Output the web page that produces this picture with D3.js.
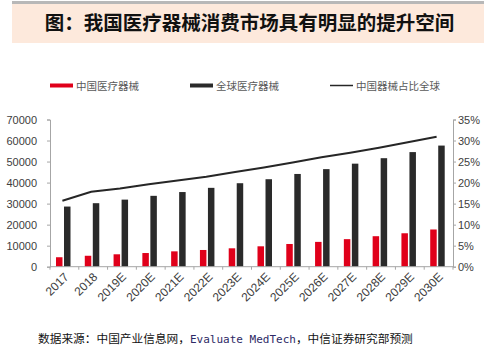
<!DOCTYPE html>
<html>
<head>
<meta charset="utf-8">
<script src="https://cdn.jsdelivr.net/npm/d3@7"></script>
<style>
body { margin: 0; background: #fff; }
</style>
</head>
<body>
<script>
// data
var years = ["2017", "2018", "2019E", "2020E", "2021E", "2022E", "2023E",
    "2024E", "2025E", "2026E", "2027E", "2028E", "2029E", "2030E"];
var chinaVals = [4500, 5200, 5900, 6500, 7300, 7950, 8750, 9700, 10800, 11800, 13100, 14500, 15900, 17700];
var globalVals = [28600, 30200, 31900, 33700, 35500, 37500, 39700, 41600, 44100, 46400, 49000, 51600, 54500, 57600];
var shareVals = [15.7, 17.8, 18.6, 19.6, 20.5, 21.4, 22.5, 23.6, 24.8, 26.0, 27.1, 28.3, 29.6, 30.9];
var leftTicks = [0, 10000, 20000, 30000, 40000, 50000, 60000, 70000];
var rightTicks = [0, 5, 10, 15, 20, 25, 30, 35];
var seriesNames = ["中国医疗器械", "全球医疗器械", "中国器械占比全球"];

var W = 488, H = 353;
var plotL = 50, plotR = 453, plotT = 119.5, plotB = 266.7;

var svg = d3.select("body").append("svg")
    .attr("width", W)
    .attr("height", H);

// title banner
svg.append("rect")
    .attr("x", 12).attr("y", 1)
    .attr("width", 472).attr("height", 4)
    .attr("fill", "#b8b8b8");
svg.append("rect")
    .attr("x", 12).attr("y", 4)
    .attr("width", 472).attr("height", 39)
    .attr("fill", "#fde9dc");
svg.append("text")
    .attr("x", 249.5)
    .attr("y", 30)
    .attr("text-anchor", "middle")
    .attr("font-family", "'Noto Sans CJK SC', sans-serif")
    .attr("font-weight", "bold")
    .attr("font-size", 19.5)
    .attr("fill", "#111")
    .text("图：我国医疗器械消费市场具有明显的提升空间");

var x = d3.scaleBand().domain(years).range([plotL, plotR]).padding(0);
var x1 = d3.scaleBand().domain(["cn", "gl"]).range([6, 20.5]).paddingInner(0.19);
var y = d3.scaleLinear().domain([0, 70000]).range([plotB, plotT]);
var y2 = d3.scaleLinear().domain([0, 35]).range([plotB, plotT]);

var axisColor = "#a6a6a6";
var labelColor = "#404040";
var font = "Arial, 'Liberation Sans', sans-serif";

// bars
var g = svg.append("g");
g.selectAll(".cn").data(years).enter().append("rect")
    .attr("x", function(d) { return x(d) + x1("cn"); })
    .attr("y", function(d, i) { return y(chinaVals[i]); })
    .attr("width", x1.bandwidth())
    .attr("height", function(d, i) { return plotB - y(chinaVals[i]); })
    .attr("fill", "#e0001a");
g.selectAll(".gl").data(years).enter().append("rect")
    .attr("x", function(d) { return x(d) + x1("gl"); })
    .attr("y", function(d, i) { return y(globalVals[i]); })
    .attr("width", x1.bandwidth())
    .attr("height", function(d, i) { return plotB - y(globalVals[i]); })
    .attr("fill", "#2a2a2a");

// share line
var line = d3.line()
    .x(function(d, i) { return x(years[i]) + x.bandwidth() / 2 - 2; })
    .y(function(d) { return y2(d); });
svg.append("path")
    .datum(shareVals)
    .attr("d", line)
    .attr("fill", "none")
    .attr("stroke", "#262626")
    .attr("stroke-width", 2);

// left axis
var yAxis = svg.append("g")
    .attr("transform", "translate(" + plotL + ",0)")
    .call(d3.axisLeft(y).tickValues(leftTicks).tickSize(3).tickPadding(10).tickFormat(d3.format("d")));
// right axis
var y2Axis = svg.append("g")
    .attr("transform", "translate(" + plotR + ",0)")
    .call(d3.axisRight(y2).tickValues(rightTicks).tickSize(3).tickPadding(2).tickFormat(function(d) { return d + "%"; }));

[yAxis, y2Axis].forEach(function(a) {
    a.select(".domain").attr("stroke", axisColor);
    a.selectAll(".tick line").attr("stroke", axisColor);
    a.selectAll("text")
        .attr("font-family", font)
        .attr("font-size", 11)
        .attr("fill", labelColor);
});

// x axis: ticks sit between the categories
var xAxis = svg.append("g").attr("transform", "translate(0," + plotB + ")");
xAxis.append("line")
    .attr("x1", plotL).attr("x2", plotR)
    .attr("stroke", axisColor);
xAxis.selectAll(".xt").data(years.concat(["end"])).enter().append("line")
    .attr("x1", function(d, i) { return plotL + i * x.step(); })
    .attr("x2", function(d, i) { return plotL + i * x.step(); })
    .attr("y1", 0).attr("y2", 3)
    .attr("stroke", axisColor);
xAxis.selectAll(".xl").data(years).enter().append("text")
    .attr("transform", function(d) {
        return "translate(" + (x(d) + x.bandwidth() / 2 + 2) + ",8) rotate(-45)";
    })
    .attr("text-anchor", "end")
    .attr("dy", "0.35em")
    .attr("font-family", font)
    .attr("font-size", 12)
    .attr("fill", labelColor)
    .text(function(d) { return d; });

// legend
var legendX = [50, 190, 330];
var leg = svg.append("g").attr("font-family", "'Noto Sans CJK SC', sans-serif");
leg.selectAll("rect").data([0, 1]).enter().append("rect")
    .attr("x", function(d) { return legendX[d]; })
    .attr("y", 83.5)
    .attr("width", 23)
    .attr("height", 4)
    .attr("fill", function(d) { return d == 0 ? "#e0001a" : "#2a2a2a"; });
leg.append("line")
    .attr("x1", legendX[2]).attr("x2", legendX[2] + 23)
    .attr("y1", 85.5).attr("y2", 85.5)
    .attr("stroke", "#262626")
    .attr("stroke-width", 1.5);
leg.selectAll("text").data(seriesNames).enter().append("text")
    .attr("x", function(d, i) { return legendX[i] + 26; })
    .attr("y", 89.5)
    .attr("font-size", 10.5)
    .attr("fill", "#595959")
    .text(function(d) { return d; });

// source note
var src = svg.append("text")
    .attr("x", 38)
    .attr("y", 342.5)
    .attr("font-family", "'Noto Sans CJK SC', sans-serif")
    .attr("font-size", 11.7)
    .attr("fill", "#111");
src.append("tspan").text("数据来源：中国产业信息网，");
src.append("tspan")
    .attr("font-family", "'DejaVu Sans Mono', monospace")
    .attr("font-size", 11)
    .attr("fill", "#2e2a66")
    .text("Evaluate MedTech");
src.append("tspan").text("，中信证券研究部预测");
</script>
</body>
</html>
